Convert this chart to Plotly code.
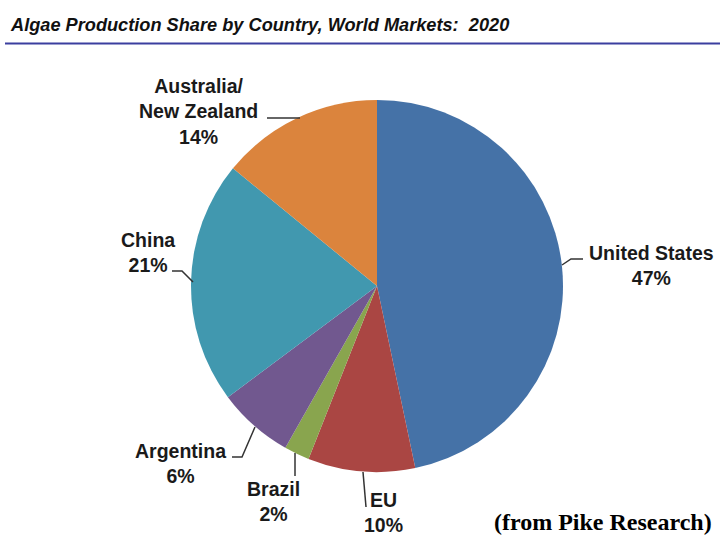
import plotly.graph_objects as go

countries = ["United States", "EU", "Brazil", "Argentina", "China", "Australia/<br>New Zealand"]
# slice sizes, the printed labels are rounded
shares = [46.7, 9.3, 2.2, 6.6, 21.1, 14.1]
share_labels = ["47%", "10%", "2%", "6%", "21%", "14%"]
colors = ["#4572A7", "#AA4643", "#89A54E", "#71588F", "#4198AF", "#DB843D"]

W, H = 720, 540
label_x = [651, 383, 273, 180, 148, 198]
label_y = [265.5, 512.5, 501.5, 463, 252, 112]
leaders = [
    [(562, 265), (571, 259), (583, 259)],
    [(363, 472), (366, 507)],
    [(295, 453), (295, 476)],
    [(255, 427), (242, 457), (232, 457)],
    [(193, 282), (182, 271), (172, 271)],
    [(300, 118), (267, 118)],
]


def xp(x):
    return x / W


def yp(y):
    return 1 - y / H


fig = go.Figure(go.Pie(labels=countries,
                       values=shares,
                       marker=dict(colors=colors, line=dict(width=0)),
                       sort=False,
                       direction="clockwise",
                       rotation=0,
                       textinfo="none",
                       hoverinfo="label+percent",
                       domain=dict(x=[xp(191), xp(563)], y=[yp(472), yp(100)])))

for name, pct, x, y in zip(countries, share_labels, label_x, label_y):
    fig.add_annotation(x=xp(x), y=yp(y), xref="paper", yref="paper",
                       xanchor="center", yanchor="middle",
                       text=f"<b>{name}<br>{pct}</b>", showarrow=False, align="center",
                       font=dict(family="Liberation Sans", size=19.5, color="#1a1a1a"))

for pts in leaders:
    path = "M " + " L ".join(f"{xp(a)} {yp(b)}" for a, b in pts)
    fig.add_shape(type="path", path=path, xref="paper", yref="paper",
                  line=dict(color="#333333", width=1.5))

# title and its rule
fig.add_annotation(x=xp(8), y=yp(25), xref="paper", yref="paper",
                   xanchor="left", yanchor="middle",
                   text="<b><i>Algae Production Share by Country, World Markets:  2020</i></b>",
                   showarrow=False,
                   font=dict(family="Liberation Sans", size=18.2, color="#111111"))
fig.add_shape(type="line", x0=xp(5), x1=1, y0=yp(43.5), y1=yp(43.5),
              xref="paper", yref="paper", line=dict(color="#3b3f9f", width=2))

fig.add_annotation(x=xp(714), y=yp(522), xref="paper", yref="paper",
                   xanchor="right", yanchor="middle",
                   text="<b>(from Pike Research)</b>", showarrow=False,
                   font=dict(family="Liberation Serif", size=24, color="#000000"))

fig.update_layout(width=W, height=H,
                  margin=dict(l=0, r=0, t=0, b=0),
                  showlegend=False,
                  paper_bgcolor="white")
# page default margin would push the 720x540 figure off the window
fig.write_html("out.html", config={"displayModeBar": False},
               post_script="document.body.style.margin='0';")
